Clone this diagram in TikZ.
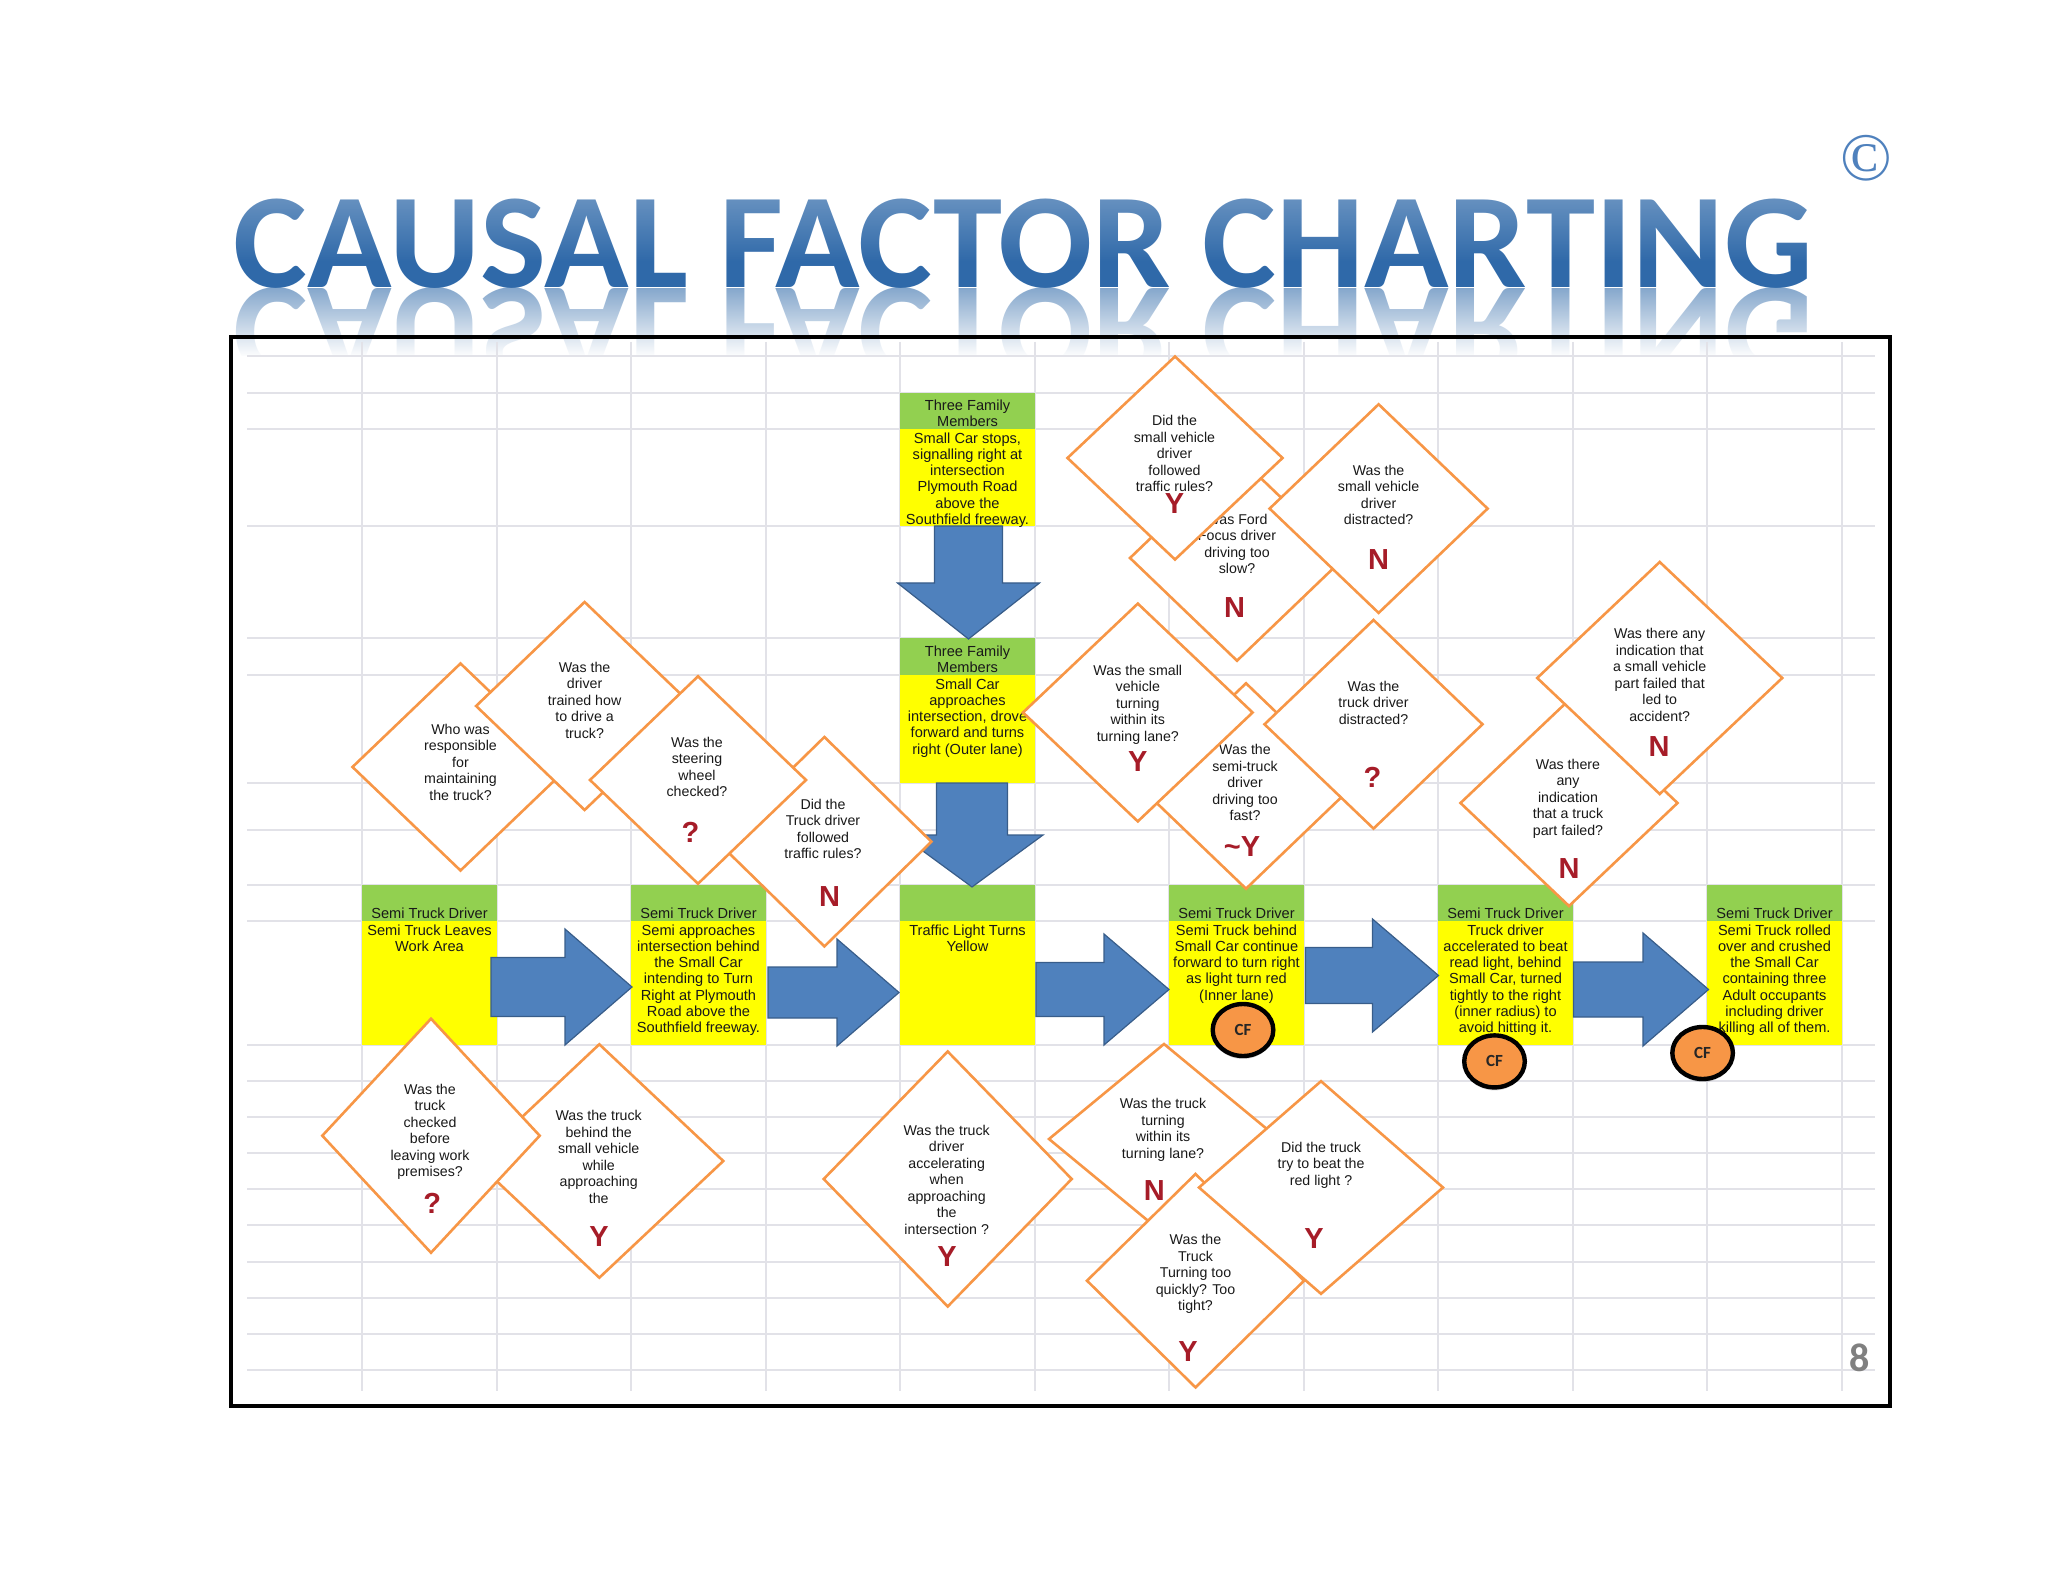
\documentclass[tikz,border=0pt]{standalone}
\usepackage{fontspec}
\setmainfont{Liberation Sans}
\newfontfamily\titlefont{Carlito}
\newfontfamily\markfont{Liberation Serif}
\usepackage{tikz}
\usetikzlibrary{shapes.geometric,calc,fadings,shadows}
\definecolor{cellgreen}{HTML}{92D050}
\definecolor{cellyellow}{HTML}{FFFF00}
\definecolor{arrowblue}{HTML}{4F81BD}
\definecolor{arrowedge}{HTML}{385D8A}
\definecolor{questorange}{HTML}{F79646}
\definecolor{gridgrey}{HTML}{E2E2E8}
\definecolor{voteblood}{HTML}{A61C28}
\definecolor{titleblue}{HTML}{2F69A9}

% block arrows: tail, tip, half shaft, half head, head length
\newcommand{\rightblock}[5]{
	\coordinate (atail) at (#1);
	\coordinate (ahead) at (#2);
	\draw[block] ($(atail)+(0,-#3)$) -- ($(ahead)+(-#5,-#3)$) -- ($(ahead)+(-#5,-#4)$) -- (ahead)
	  -- ($(ahead)+(-#5,#4)$) -- ($(ahead)+(-#5,#3)$) -- ($(atail)+(0,#3)$) -- cycle;
}
\newcommand{\downblock}[5]{
	\coordinate (atail) at (#1);
	\coordinate (ahead) at (#2);
	\draw[block] ($(atail)+(-#3,0)$) -- ($(ahead)+(-#3,-#5)$) -- ($(ahead)+(-#4,-#5)$) -- (ahead)
	  -- ($(ahead)+(#4,-#5)$) -- ($(ahead)+(#3,-#5)$) -- ($(atail)+(#3,0)$) -- cycle;
}

\begin{document}
\begin{tikzpicture}[x=0.5pt, y=-0.5pt]
	\tikzstyle{gridline} = [gridgrey, line width=0.9pt]
	\tikzstyle{head} = [fill=cellgreen, minimum width=67.5pt, inner sep=0pt, outer sep=0pt, anchor=north west]
	\tikzstyle{body} = [fill=cellyellow, minimum width=67.5pt, inner sep=0pt, outer sep=0pt, anchor=north west]
	\tikzstyle{celltext} = [align=center, inner sep=0pt, text=black!90, font=\fontsize{7.3}{8.1}\selectfont]
	\tikzstyle{headtext} = [celltext, anchor=south, yshift=1pt]
	\tikzstyle{bodytext} = [celltext, anchor=north, yshift=-1.7pt]
	\tikzstyle{block} = [fill=arrowblue, draw=arrowedge, line width=0.6pt, line join=miter]
	\tikzstyle{quest} = [diamond, draw=questorange, fill=white, line width=1.3pt, inner sep=0pt, outer sep=0pt]
	\tikzstyle{qtext} = [align=center, inner sep=0pt, text=black!90, font=\fontsize{7.1}{8.25}\selectfont]
	\tikzstyle{vote} = [inner sep=0pt, text=voteblood, font=\fontsize{14.5}{15}\selectfont\bfseries]
	\tikzstyle{cause} = [ellipse, draw=black, fill=questorange, line width=2.2pt, minimum width=30.3pt, minimum height=26pt, inner sep=0pt,
	  font=\titlefont\fontsize{8.5}{9}\selectfont\bfseries, text=black!85, drop shadow={opacity=0.3, shadow xshift=0pt, shadow yshift=-1.5pt}]
	\tikzstyle{heading} = [inner sep=0pt, anchor=base west, transform shape, font=\titlefont\fontsize{67.5}{68}\selectfont\bfseries]
	\useasboundingbox (0,0) rectangle (2048,1582);

	% title and its reflection
	\begin{scope}
	  \clip (225,288) rectangle (1815,356);
	  \node[heading, xscale=1.033, yscale=-1, text=titleblue!60] (mirror) at (233,289) {CAUSAL FACTOR CHARTING};
	  \fill[white, path fading=north] (225,286) rectangle (1815,357);
	\end{scope}
	\node[heading, xscale=1.033, text=titleblue] (title) at (233,288) {CAUSAL FACTOR CHARTING};
	\fill[white, opacity=0.3, path fading=south] (225,190) rectangle (1815,262);
	\node[inner sep=0pt, text=arrowblue, font=\markfont\fontsize{34}{34}\selectfont] (copyr) at (1866,158) {©};

	% sheet
	\foreach \gy in {356,393,429,526,638,675,783,830,885,921,1045,1081,1117,1153,1189,1225,1262,1298,1334,1370}
	  \draw[gridline] (247,\gy) -- (1875,\gy);
	\foreach \gx in {362,497,631,766,900,1035,1169,1304,1438,1573,1707,1842}
	  \draw[gridline] (\gx,342) -- (\gx,1391);
	\draw[line width=2.2pt] (231,337) rectangle (1890,1406);
	\node[inner sep=0pt, text=black!50, font=\titlefont\fontsize{20}{20}\selectfont\bfseries] (pageno) at (1860,1358) {8};

	% cells
	\foreach \k/\x in {a/362,b/631,c/900,d/1169,e/1438,f/1707} {
	  \node[head, minimum height=18pt] (g\k) at (\x,885) {};
	  \node[body, minimum height=62pt] (y\k) at (\x,921) {};
	}
	\node[head, minimum height=18pt] (gtop) at (900,393) {};
	\node[body, minimum height=48.5pt] (ytop) at (900,429) {};
	\node[head, minimum height=18.5pt] (gmid) at (900,638) {};
	\node[body, minimum height=54pt] (ymid) at (900,675) {};
	\path
	  node[headtext] (gtopt) at (gtop.south) {Three Family\\Members}
	  node[bodytext] (ytopt) at (ytop.north) {Small Car stops,\\signalling right at\\intersection\\Plymouth Road\\above the\\Southfield freeway.}
	  node[headtext] (gmidt) at (gmid.south) {Three Family\\Members}
	  node[bodytext] (ymidt) at (ymid.north) {Small Car\\approaches\\intersection, drove\\forward and turns\\right (Outer lane)}
	  node[headtext] (gat) at (ga.south) {Semi Truck Driver}
	  node[bodytext] (yat) at (ya.north) {Semi Truck Leaves\\Work Area}
	  node[headtext] (gbt) at (gb.south) {Semi Truck Driver}
	  node[bodytext] (ybt) at (yb.north) {Semi approaches\\intersection behind\\the Small Car\\intending to Turn\\Right at Plymouth\\Road above the\\Southfield freeway.}
	  node[bodytext] (yct) at (yc.north) {Traffic Light Turns\\Yellow}
	  node[headtext] (gdt) at (gd.south) {Semi Truck Driver}
	  node[bodytext] (ydt) at (yd.north) {Semi Truck behind\\Small Car continue\\forward to turn right\\as light turn red\\(Inner lane)}
	  node[headtext] (get) at (ge.south) {Semi Truck Driver}
	  node[bodytext] (yet) at (ye.north) {Truck driver\\accelerated to beat\\read light, behind\\Small Car, turned\\tightly to the right\\(inner radius) to\\avoid hitting it.}
	  node[headtext] (gft) at (gf.south) {Semi Truck Driver}
	  node[bodytext] (yft) at (yf.north) {Semi Truck rolled\\over and crushed\\the Small Car\\containing three\\Adult occupants\\including driver\\killing all of them.}
	  ;

	% block arrows
	\downblock{$(ytop.south)+(1,0)$}{$(ymid.north)+(1,-36)$}{34}{71}{56}
	\downblock{$(ymid.south)+(4.5,0)$}{$(gc.north)+(4.5,2)$}{35.5}{71}{52}
	\rightblock{$(ya.east)+(-6,4)$}{$(yb.west)+(1,4)$}{29.5}{58}{67}
	\rightblock{$(yb.east)+(2,9.5)$}{$(yc.west)+(-1,9.5)$}{25.5}{53.5}{62}
	\rightblock{$(yc.east)+(1,6.5)$}{$(yd.west)+(0,6.5)$}{27}{55.5}{65}
	\rightblock{$(yd.east)+(1.5,-7.5)$}{$(ye.west)+(0.5,-7.5)$}{28}{56.5}{66}
	\rightblock{$(ye.east)+(0.5,6.5)$}{$(yf.west)+(1.5,6.5)$}{27.5}{56.5}{65.5}

	% questions, lower ones first
	\path
	  node[quest, minimum width=108pt, minimum height=103.5pt] (qwho) at (460.5,767) {}
	  node[qtext] (qwhot) at (460.5,762) {Who was\\responsible\\for\\maintaining\\the truck?}
	  node[quest, minimum width=108.5pt, minimum height=104pt] (qtrain) at (584.6,706) {}
	  node[qtext] (qtraint) at (584.6,700) {Was the\\driver\\trained how\\to drive a\\truck?}
	  node[quest, minimum width=107pt, minimum height=104.7pt] (qrules) at (824.4,841.7) {}
	  node[qtext] (qrulest) at (823,828.7) {Did the\\Truck driver\\followed\\traffic rules?}
	  node[vote] (qrulesv) at (829.7,896.7) {N}
	  node[quest, minimum width=108pt, minimum height=103.7pt] (qsteer) at (698,780) {}
	  node[qtext] (qsteert) at (697,767) {Was the\\steering\\wheel\\checked?}
	  node[vote] (qsteerv) at (690.4,832.7) {?}

	  node[quest, minimum width=107pt, minimum height=102.7pt] (qslow) at (1237,558) {}
	  node[qtext] (qslowt) at (1237,544) {Was Ford\\Focus driver\\driving too\\slow?}
	  node[vote] (qslowv) at (1234.7,608) {N}
	  node[quest, minimum width=107.5pt, minimum height=101.5pt] (qsmall) at (1175,458) {}
	  node[qtext] (qsmallt) at (1174.5,453.6) {Did the\\small vehicle\\driver\\followed\\traffic rules?}
	  node[vote] (qsmallv) at (1174.5,504) {Y}
	  node[quest, minimum width=109pt, minimum height=104.3pt] (qdist) at (1378.6,508.6) {}
	  node[qtext] (qdistt) at (1378.6,495) {Was the\\small vehicle\\driver\\distracted?}
	  node[vote] (qdistv) at (1378.6,560) {N}

	  node[quest, minimum width=107pt, minimum height=102.7pt] (qfast) at (1246,786) {}
	  node[qtext] (qfastt) at (1245,782.5) {Was the\\semi-truck\\driver\\driving too\\fast?}
	  node[vote] (qfastv) at (1242,846.4) {\textasciitilde Y}
	  node[quest, minimum width=114.8pt, minimum height=108.9pt] (qlane) at (1137.8,712.5) {}
	  node[qtext] (qlanet) at (1137.8,704.6) {Was the small\\vehicle\\turning\\within its\\turning lane?}
	  node[vote] (qlanev) at (1137.8,762) {Y}
	  node[quest, minimum width=109pt, minimum height=104.3pt] (qtdist) at (1373.5,724.3) {}
	  node[qtext] (qtdistt) at (1373.5,702.5) {Was the\\truck driver\\distracted?}
	  node[vote] (qtdistv) at (1372.4,777.5) {?}

	  node[quest, minimum width=108.5pt, minimum height=103pt] (qpart) at (1569,803) {}
	  node[qtext] (qpartt) at (1568,798.6) {Was there\\any\\indication\\that a truck\\part failed?}
	  node[vote] (qpartv) at (1569,868.6) {N}
	  node[quest, minimum width=122.5pt, minimum height=116pt] (qind) at (1659.7,678) {}
	  node[qtext] (qindt) at (1659.7,675) {Was there any\\indication that\\a small vehicle\\part failed that\\led to\\accident?}
	  node[vote] (qindv) at (1659,746.4) {N}

	  node[quest, minimum width=124pt, minimum height=116.7pt] (qbehind) at (599.3,1161) {}
	  node[qtext] (qbehindt) at (598.7,1157) {Was the truck\\behind the\\small vehicle\\while\\approaching\\the}
	  node[vote] (qbehindv) at (599,1237) {Y}
	  node[quest, minimum width=108.7pt, minimum height=117pt] (qcheck) at (431,1135.7) {}
	  node[qtext] (qcheckt) at (430,1132) {Was the\\truck\\checked\\before\\leaving work\\premises?}
	  node[vote] (qcheckv) at (432.3,1203) {?}
	  node[quest, minimum width=124pt, minimum height=127.5pt] (qaccel) at (947.7,1179) {}
	  node[qtext] (qaccelt) at (946.7,1179.7) {Was the truck\\driver\\accelerating\\when\\approaching\\the\\intersection ?}
	  node[vote] (qaccelv) at (947,1256.7) {Y}

	  node[quest, minimum width=115pt, minimum height=95pt] (qwithin) at (1164,1139) {}
	  node[qtext] (qwithint) at (1163,1130) {Was the truck\\turning\\within its\\turning lane?}
	  node[vote] (qwithinv) at (1154.3,1191) {N}
	  node[quest, minimum width=108.5pt, minimum height=106.7pt] (qtight) at (1195.5,1280.7) {}
	  node[qtext] (qtightt) at (1195.5,1274) {Was the\\Truck\\Turning too\\quickly? Too\\tight?}
	  node[vote] (qtightv) at (1188,1352) {Y}
	  node[quest, minimum width=122pt, minimum height=106.3pt] (qbeat) at (1321,1187.5) {}
	  node[qtext] (qbeatt) at (1321,1165) {Did the truck\\try to beat the\\red light ?}
	  node[vote] (qbeatv) at (1314,1238.6) {Y}
	  ;

	% causal factors
	\node[cause] (cfa) at (1243,1030) {CF};
	\node[cause] (cfb) at (1494.5,1061.4) {CF};
	\node[cause] (cfc) at (1702.6,1053) {CF};
\end{tikzpicture}
\end{document}
